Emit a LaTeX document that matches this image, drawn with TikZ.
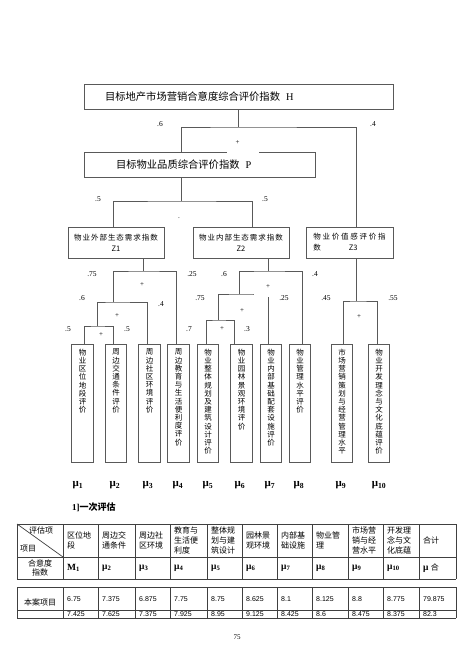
\documentclass[tikz,border=0pt]{standalone}
\usepackage{fontspec}
\setmainfont{Liberation Serif}
\setsansfont{Liberation Sans}
\newfontfamily\cjk{Noto Sans CJK SC}
\newfontfamily\cjkwide[LetterSpace=20]{Noto Sans CJK SC}
\newfontfamily\cjkmid[LetterSpace=13]{Noto Sans CJK SC}
\XeTeXlinebreaklocale "zh"
\XeTeXlinebreakskip=0pt plus 1pt
\definecolor{linegray}{gray}{0.35}
\newcommand{\vtxt}[1]{\parbox[c][108pt][t]{8pt}{\centering\cjk\fontsize{7.5}{8.2}\selectfont #1}}
\newcommand{\mus}[1]{μ\textsubscript{#1}}

\begin{document}
\begin{tikzpicture}[x=1pt,y=-1pt,
edge/.style={draw=linegray, line width=0.8pt},
titlebox/.style={draw=linegray, line width=0.8pt, minimum height=25pt, align=left,
font=\cjkwide\fontsize{10.3}{12}\selectfont},
idxbox/.style={draw=linegray, line width=0.8pt, minimum width=96pt, minimum height=31pt,
align=center, inner sep=2pt, font=\cjkmid\fontsize{7.5}{11}\selectfont},
leafbox/.style={draw=linegray, line width=0.8pt, minimum width=21.5pt, minimum height=118pt, inner sep=0pt},
wt/.style={font=\fontsize{7.5}{8}\selectfont, inner sep=0pt},
plus/.style={font=\fontsize{7}{8}\selectfont, inner sep=0pt},
mulabel/.style={font=\bfseries\fontsize{11}{12}\selectfont, inner sep=0pt},
grid/.style={draw=black!75, line width=0.7pt},
cell/.style={anchor=west, align=left, inner sep=0pt, font=\cjk\fontsize{8}{10}\selectfont},
num/.style={anchor=west, inner sep=0pt, font=\sffamily\fontsize{7}{8}\selectfont}
]
\path[fill=white, use as bounding box] (0,0) rectangle (474,670);

\node[titlebox, inner xsep=21pt, text width=267pt] (h) at (238.5,96.5) {目标地产市场营销合意度综合评价指数\hspace{6pt}{\rmfamily H}};
\node[titlebox, inner xsep=32pt, text width=167pt] (p) at (199.5,164.5) {目标物业品质综合评价指数\hspace{6pt}{\rmfamily P}};
\node[idxbox] (z1) at (116,242.5) {物业外部生态需求指数\\{\cjk Z1}};
\node[idxbox] (z2) at (241,242.5) {物业内部生态需求指数\\{\cjk Z2}};
\node[idxbox, minimum width=87pt, align=left,
font=\cjk\fontsize{7.5}{11}\selectfont\addfontfeatures{LetterSpace=23}] (z3) at (349.5,242.5) {物业价值感评价指\\数\hspace{28pt}{\cjk Z3}};

\node[leafbox] (b1) at (82.5,403) {\vtxt{物业区位地段评价}};
\node[leafbox] (b2) at (116,403) {\vtxt{周边交通条件评价}};
\node[leafbox] (b3) at (149.5,403) {\vtxt{周边社区环境评价}};
\node[leafbox] (b4) at (178.5,403) {\vtxt{周边教育与生活便利度评价}};
\node[leafbox] (b5) at (208,403) {\vtxt{物业整体规划及建筑设计评价}};
\node[leafbox] (b6) at (241.5,403) {\vtxt{物业园林景观环境评价}};
\node[leafbox] (b7) at (271,403) {\vtxt{物业内部基础配套设施评价}};
\node[leafbox] (b8) at (300,403) {\vtxt{物业管理水平评价}};
\node[leafbox] (b9) at (342,403) {\vtxt{市场营销策划与经营管理水平}};
\node[leafbox] (b10) at (379,403) {\vtxt{物业开发理念与文化底蕴评价}};

\node[mulabel] (mu1) at (78,485) {\mus{1}};
\node[mulabel] (mu2) at (115,485) {\mus{2}};
\node[mulabel] (mu3) at (148,485) {\mus{3}};
\node[mulabel] (mu4) at (178,485) {\mus{4}};
\node[mulabel] (mu5) at (208,485) {\mus{5}};
\node[mulabel] (mu6) at (240,485) {\mus{6}};
\node[mulabel] (mu7) at (270,485) {\mus{7}};
\node[mulabel] (mu8) at (299,485) {\mus{8}};
\node[mulabel] (mu9) at (341,485) {\mus{9}};
\node[mulabel] (mu10) at (379,485) {\mus{10}};

\coordinate (hj) at (238.5,127);
\coordinate (pj) at (181,201);
\coordinate (a1) at (143,271);
\coordinate (a2) at (113,302);
\coordinate (a3) at (97,326);
\coordinate (c1) at (268,271);
\coordinate (c2) at (239,294);
\coordinate (c3) at (218,320);
\coordinate (d1) at (356,301);

\draw[edge] (h.south) -- (hj);
\draw[edge] ([xshift=-18.5pt]p.north) |- (hj) -| ([xshift=6.5pt]z3.north);
\draw[edge] ([xshift=-18.5pt]p.south) -- (pj);
\draw[edge] ([xshift=-3pt]z1.north) |- (pj) -| ([xshift=11pt]z2.north);
\draw[edge] ([xshift=27pt]z1.south) -- (a1);
\draw[edge] (a2) |- (a1) -| ([xshift=-2.5pt]b4.north);
\draw[edge] (a3) |- (a2) -| ([xshift=-2.5pt]b3.north);
\draw[edge] ([xshift=1.5pt]b1.north) |- (a3) -| ([xshift=-3pt]b2.north);
\draw[edge] ([xshift=27pt]z2.south) -- (c1);
\draw[edge] (c2) |- (c1) -| ([xshift=2pt]b8.north);
\draw[edge] (c3) |- (c2) -| ([xshift=-3pt]b7.north);
\draw[edge] ([xshift=-2pt]b5.north) |- (c3) -| ([xshift=-7pt]b6.north);
\draw[edge] ([xshift=6.5pt]z3.south) -- (d1);
\draw[edge] ([xshift=1pt]b9.north) |- (d1) -| ([xshift=-2pt]b10.north);

\node[plus, fill=white, minimum width=32pt, minimum height=19pt] (s1) at (243,143) {\makebox[32pt][l]{\hspace{8.5pt}+}};
\node[plus] (s2) at (179,219) {·};
\node[plus] (s3) at (142,285) {+};
\node[plus] (s4) at (117,316) {+};
\node[plus] (s5) at (101,335) {+};
\node[plus, fill=white, minimum width=28pt, minimum height=21pt] (s6) at (268,286.5) {+};
\node[plus] (s7) at (242,311) {+};
\node[plus] (s8) at (222,329) {+};
\node[plus] (s9) at (359,317) {+};

\node[wt] (w1) at (160,124) {.6};
\node[wt] (w2) at (373,124) {.4};
\node[wt] (w3) at (98,199) {.5};
\node[wt] (w4) at (265,199) {.5};
\node[wt] (w5) at (92,274) {.75};
\node[wt] (w6) at (192,274) {.25};
\node[wt] (w7) at (224,274) {.6};
\node[wt] (w8) at (315,274) {.4};
\node[wt] (w9) at (82,298) {.6};
\node[wt] (w10) at (161,304) {.4};
\node[wt] (w11) at (200,298) {.75};
\node[wt] (w12) at (284,298) {.25};
\node[wt] (w13) at (326,298) {.45};
\node[wt] (w14) at (393,298) {.55};
\node[wt] (w15) at (68,329) {.5};
\node[wt] (w16) at (127,329) {.5};
\node[wt] (w17) at (189,329) {.7};
\node[wt] (w18) at (247,329) {.3};

\node[anchor=west, inner sep=0pt, font=\bfseries\fontsize{9}{10}\selectfont] (eval1) at (72,507) {1]{\cjk 一次评估}};

\foreach \x in {17,63,98,135,170,207,242,277,312,348,383,419,456} {
\draw[grid] (\x,524) -- (\x,579);
\draw[grid] (\x,587) -- (\x,618);
}
\foreach \y in {524,557,579,587,610,618}
\draw[grid] (17,\y) -- (456,\y);
\draw[grid] (17,524) -- (63,557);

\node[cell, anchor=center] (corner1) at (41,530) {评估项};
\node[cell, anchor=center] (corner2) at (28,549) {项目};
\node[cell, anchor=center, align=center, font=\cjk\fontsize{8}{9}\selectfont] (rowidx) at (40,568) {合意度\\指数};
\node[cell, anchor=center] (rowcase) at (40,602) {本案项目};

\foreach \x/\t [count=\i] in {67/{区位地\\段}, 102/{周边交\\通条件}, 139/{周边社\\区环境},
174/{教育与\\生活便\\利度}, 211/{整体规\\划与建\\筑设计}, 246/{园林景\\观环境},
281/{内部基\\础设施}, 316/{物业管\\理}, 352/{市场营\\销与经\\营水平},
387/{开发理\\念与文\\化底蕴}, 423/{合计}}
\node[cell] (hd\i) at (\x,540.5) {\t};

\node[cell, font=\bfseries\fontsize{9.5}{10}\selectfont] (ix1) at (67,568) {M\textsubscript{1}};
\foreach \x/\t [count=\i from 2] in {102/2, 139/3, 174/4, 211/5, 246/6, 281/7, 316/8, 352/9, 387/10}
\node[cell, font=\bfseries\fontsize{9.5}{10}\selectfont] (ix\i) at (\x,568) {\mus{\t}};
\node[cell, font=\bfseries\fontsize{9.5}{10}\selectfont] (ix11) at (423,568) {μ {\mdseries\cjk\fontsize{8}{9}\selectfont 合}};

\foreach \x/\v [count=\i] in {67/6.75, 102/7.375, 139/6.875, 174/7.75, 211/8.75, 246/8.625,
281/8.1, 316/8.125, 352/8.8, 387/8.775, 423/79.875}
\node[num] (va\i) at (\x,599) {\v};
\foreach \x/\v [count=\i] in {67/7.425, 102/7.625, 139/7.375, 174/7.925, 211/8.95, 246/9.125,
281/8.425, 316/8.6, 352/8.475, 387/8.375, 423/82.3}
\node[num] (vb\i) at (\x,614.3) {\v};

\node[font=\fontsize{7}{8}\selectfont, inner sep=0pt] (pageno) at (237,637) {75};
\end{tikzpicture}
\end{document}
